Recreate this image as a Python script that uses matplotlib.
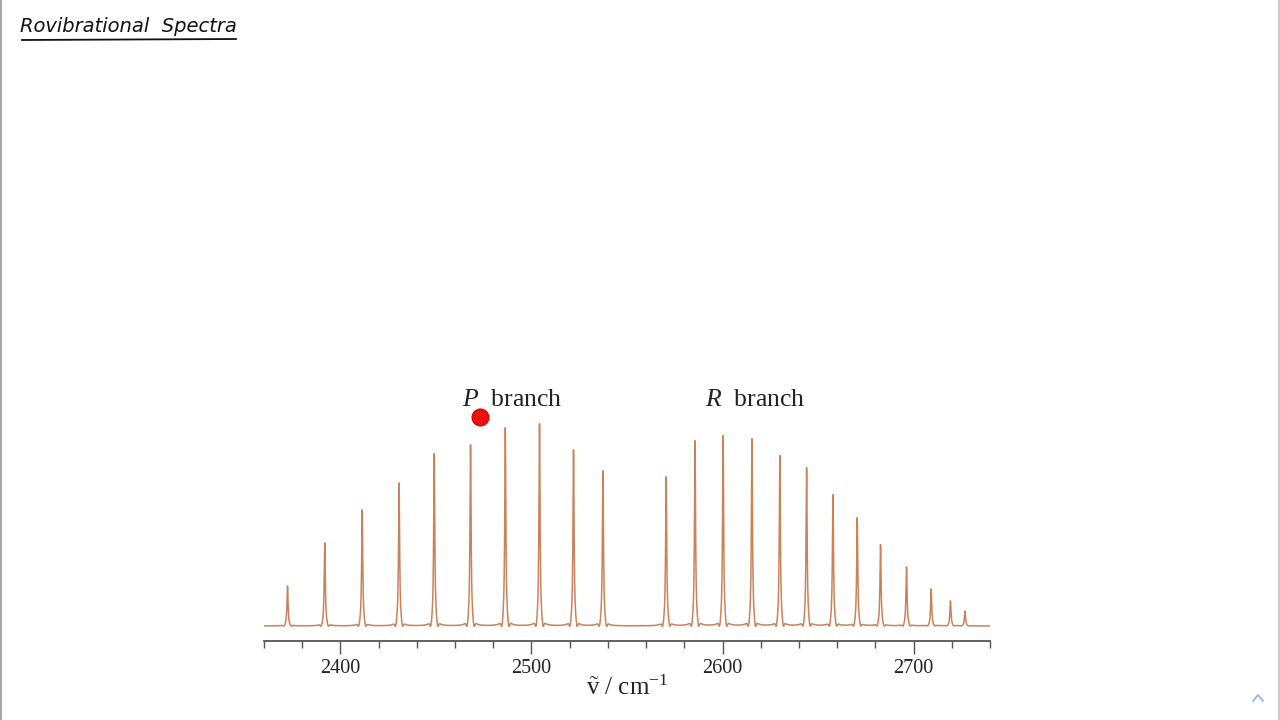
import numpy as np
import matplotlib
matplotlib.use("Agg")
import matplotlib.pyplot as plt
from matplotlib.lines import Line2D
from matplotlib.ticker import MultipleLocator

# ---- data (wavenumber in cm^-1, intensity in arbitrary units) ----
p_branch_pos = [2372.3, 2391.8, 2411.4, 2430.7, 2449.1, 2468.1, 2486.3, 2504.2, 2522.0, 2537.4]
p_branch_int = [40, 83, 116, 143, 172, 181, 198, 202, 176, 155]
r_branch_pos = [2570.5, 2585.6, 2600.3, 2615.4, 2630.0, 2644.0, 2657.8, 2670.5, 2682.7, 2696.3, 2709.2, 2719.3, 2726.9]
r_branch_int = [149, 185, 190, 187, 170, 158, 131, 108, 81, 59, 37, 25, 15]
x_range = [2360, 2740]
major_ticks = [2400, 2500, 2600, 2700]
label_p = "P"
label_r = "R"
title_text = "Rovibrational  Spectra"

# ---- build spectrum from the peak list ----
grid = np.arange(x_range[0], x_range[1] + 0.05, 0.1)
positions = np.array(p_branch_pos + r_branch_pos)
heights = np.array(p_branch_int + r_branch_int, dtype=float)
gamma = 0.34
spec = np.zeros_like(grid)
for c, h in zip(positions, heights):
    d = grid - c
    lor = 1.0 / (1.0 + (d / gamma) ** 2)
    lobes = np.exp(-((np.abs(d) - 1.8) / 0.6) ** 2)
    spec += h * (lor - 0.035 * lobes)

plt.rcParams['mathtext.fontset'] = 'custom'
plt.rcParams['mathtext.rm'] = 'Liberation Serif'
plt.rcParams['mathtext.it'] = 'Liberation Serif:italic'
plt.rcParams['font.family'] = ['Liberation Serif', 'DejaVu Serif']

fig = plt.figure(figsize=(12.8, 7.2), dpi=100)
fig.patch.set_facecolor('white')

ax = fig.add_axes([264 / 1280, (720 - 641) / 720, (990 - 264) / 1280, (641 - 380) / 720])
ax.plot(grid, spec, color='#c9835a', lw=1.1)
ax.set_xlim(x_range)
ax.set_ylim(-15, 246)
for s in ['top', 'right', 'left']:
    ax.spines[s].set_visible(False)
ax.spines['bottom'].set_color('#555555')
ax.spines['bottom'].set_linewidth(1.3)
ax.set_yticks([])
ax.set_xticks(major_ticks)
ax.xaxis.set_minor_locator(MultipleLocator(20))
ax.tick_params(axis='x', which='major', length=9, width=1.0, color='#555555',
               labelsize=14.5, pad=4, labelcolor='#222222')
ax.tick_params(axis='x', which='minor', length=5, width=1.0, color='#555555')
ax.patch.set_alpha(0)

ax.set_xlabel(r"$\tilde{\mathrm{v}}$ / cm$^{-1}$", fontsize=18, color='#222222', labelpad=-2)

ax.text(2463.6, 226, r"$" + label_p + r"$  branch", fontsize=18.5, ha='left', va='center', color='#222222')
ax.text(2590.6, 226, r"$" + label_r + r"$  branch", fontsize=18.5, ha='left', va='center', color='#222222')

# handwritten-style title with underline
fig.text(20 / 1280, 1 - 27 / 720, title_text, fontsize=14, family='DejaVu Sans',
         style='italic', color='#111111', ha='left', va='center')
fig.add_artist(Line2D([22 / 1280, 236 / 1280], [1 - 40 / 720, 1 - 39 / 720],
                      transform=fig.transFigure, color='#111111', lw=1.3))

# red pointer dot
fig.add_artist(Line2D([480 / 1280], [1 - 417 / 720], transform=fig.transFigure,
                      marker='o', markersize=12, color='#ee1111', markeredgecolor='#dd0000'))

# page borders
fig.add_artist(Line2D([1 / 1280, 1 / 1280], [0, 1], transform=fig.transFigure, color='#aaaaaa', lw=1.5))
fig.add_artist(Line2D([1278.5 / 1280, 1278.5 / 1280], [0, 1], transform=fig.transFigure, color='#cccccc', lw=1.5))

# small chevron bottom right
fig.add_artist(Line2D([1253 / 1280, 1258 / 1280, 1263 / 1280],
                      [1 - 701 / 720, 1 - 695 / 720, 1 - 701 / 720],
                      transform=fig.transFigure, color='#8fb0e0', lw=1.2))

fig.savefig('out.png', dpi=100, facecolor='white')
